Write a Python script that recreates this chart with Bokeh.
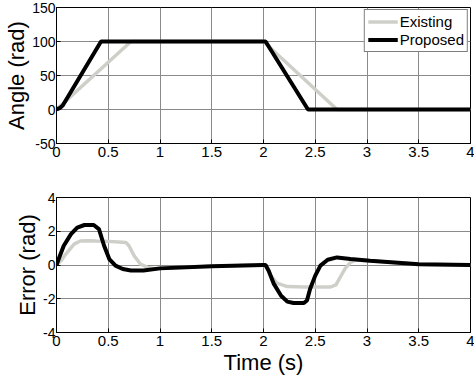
from bokeh.plotting import figure
from bokeh.layouts import column
from bokeh.models import Range1d, FixedTicker, Legend, LegendItem
from bokeh.embed import file_html
from bokeh.resources import INLINE

# ---- data ----
x_ticks = [0, 0.5, 1, 1.5, 2, 2.5, 3, 3.5, 4]
x_tick_labels = ["0", "0.5", "1", "1.5", "2", "2.5", "3", "3.5", "4"]
angle_ticks = [-50, 0, 50, 100, 150]
error_ticks = [-4, -2, 0, 2, 4]

t_angle_existing = [0, 0.72, 2.0, 2.71, 4.0]
angle_existing = [0, 100, 100, 0, 0]
t_angle_proposed = [0, 0.03, 0.06, 0.43, 2.02, 2.43, 4.0]
angle_proposed = [0, 2, 6, 100, 100, 0, 0]

t_err_existing = [0, 0.05, 0.09, 0.17, 0.23, 0.3, 0.38, 0.5, 0.6, 0.67, 0.70, 0.75, 0.81, 0.88, 0.95,
                  1.0, 1.5, 2.0, 2.03, 2.07, 2.13, 2.23, 2.4, 2.55, 2.65, 2.70, 2.74, 2.79, 2.84, 2.89,
                  3.03, 3.5, 4.0]
err_existing = [0, 0.3, 0.65, 1.24, 1.42, 1.44, 1.42, 1.4, 1.37, 1.34, 1.14, 0.55, 0.06, -0.14, -0.22,
                -0.2, -0.08, 0, -0.15, -0.63, -1.07, -1.28, -1.3, -1.3, -1.3, -1.18, -0.73, -0.2, 0.15, 0.3,
                0.25, 0.05, 0]

t_err_proposed = [0, 0.03, 0.07, 0.14, 0.2, 0.27, 0.36, 0.41, 0.46, 0.51, 0.57, 0.64, 0.72, 0.84,
                  1.0, 1.5, 2.0, 2.02, 2.05, 2.1, 2.17, 2.23, 2.29, 2.39, 2.42, 2.45, 2.5, 2.55, 2.62,
                  2.71, 2.84, 3.03, 3.5, 4.0]
err_proposed = [0, 0.5, 1.14, 1.83, 2.22, 2.37, 2.37, 2.13, 1.14, 0.35, -0.04, -0.24, -0.33, -0.33,
                -0.2, -0.08, 0, 0, -0.34, -1.12, -1.82, -2.17, -2.25, -2.25, -2.1, -1.42, -0.63, -0.04, 0.31,
                0.45, 0.35, 0.25, 0.05, 0]

FONT = "Liberation Sans"
GRAY = "#cfcfca"
W = 474


def style(p, yticks, ylabel, xlabel=None):
    p.x_range = Range1d(0, 4)
    p.outline_line_color = "black"
    p.outline_line_width = 1
    p.background_fill_color = "white"
    p.border_fill_color = "white"
    p.xaxis.ticker = FixedTicker(ticks=x_ticks)
    p.xaxis.major_label_overrides = {t: s for t, s in zip(x_ticks, x_tick_labels)}
    p.yaxis.ticker = FixedTicker(ticks=yticks)
    p.yaxis.major_label_overrides = {t: str(t) for t in yticks}
    for ax in (p.xaxis[0], p.yaxis[0]):
        ax.axis_line_color = "black"
        ax.major_tick_in = 4
        ax.major_tick_out = 0
        ax.minor_tick_line_color = None
        ax.major_label_text_font = FONT
        ax.major_label_text_font_size = "15px"
        ax.major_label_text_color = "black"
        ax.axis_label_text_font = FONT
        ax.axis_label_text_font_size = "22px"
        ax.axis_label_text_font_style = "normal"
        ax.axis_label_text_color = "black"
    p.xaxis.major_label_standoff = 3
    p.yaxis.major_label_standoff = 1
    p.yaxis.major_label_text_font_size = "14px"
    p.yaxis.axis_label = ylabel
    p.yaxis.axis_label_standoff = 0
    if xlabel:
        p.xaxis.axis_label = xlabel
        p.xaxis.axis_label_standoff = 1
    p.xgrid.ticker = FixedTicker(ticks=x_ticks)
    p.ygrid.ticker = FixedTicker(ticks=yticks)
    p.grid.grid_line_color = "#8a8a8a"
    p.grid.grid_line_width = 1


p1 = figure(width=W, height=175, output_backend="svg", toolbar_location=None,
            min_border_left=56, min_border_right=4, min_border_top=7, min_border_bottom=32,
            y_range=Range1d(-50, 150))
style(p1, angle_ticks, "Angle (rad)")
r_ex = p1.line(t_angle_existing, angle_existing, line_color=GRAY, line_width=3.5)
r_pr = p1.line(t_angle_proposed, angle_proposed, line_color="black", line_width=4)
legend = Legend(items=[LegendItem(label="Existing", renderers=[r_ex]),
                       LegendItem(label="Proposed", renderers=[r_pr])],
                location="top_right")
legend.label_text_font = FONT
legend.label_text_font_size = "15px"
legend.label_text_color = "black"
legend.glyph_width = 30
legend.glyph_height = 17
legend.label_height = 17
legend.label_standoff = 2
legend.spacing = 1
legend.padding = 3
legend.margin = 2
legend.border_line_color = "black"
legend.border_line_width = 1
legend.background_fill_alpha = 1
p1.add_layout(legend)

p2 = figure(width=W, height=202, output_backend="svg", toolbar_location=None,
            min_border_left=56, min_border_right=4, min_border_top=22, min_border_bottom=44,
            y_range=Range1d(-4, 4))
style(p2, error_ticks, "Error (rad)", "Time (s)")
p2.line(t_err_existing, err_existing, line_color=GRAY, line_width=3.5)
p2.line(t_err_proposed, err_proposed, line_color="black", line_width=4)

layout = column(p1, p2, spacing=0)
open("out.html", "w").write(file_html(layout, INLINE))
